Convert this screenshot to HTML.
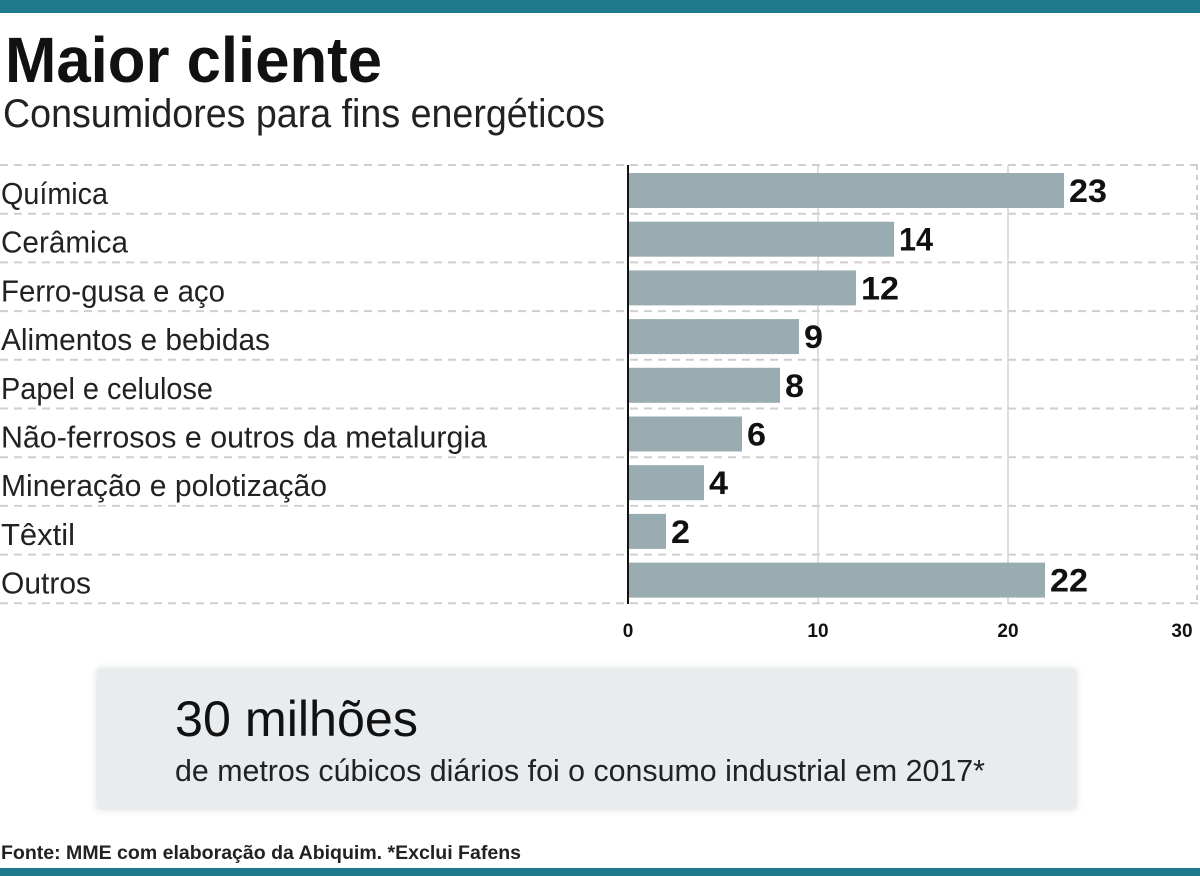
<!DOCTYPE html>
<html><head><meta charset="utf-8"><style>
html,body{margin:0;padding:0;background:#fff;}
svg{display:block;font-family:"Liberation Sans",sans-serif;}
</style></head><body>
<svg width="1200" height="876" viewBox="0 0 1200 876" xmlns="http://www.w3.org/2000/svg">
<defs><filter id="sh" x="-5%" y="-10%" width="110%" height="120%"><feGaussianBlur stdDeviation="4"/></filter></defs>
<rect x="0" y="0" width="1200" height="13" fill="#1e7a8c"/>
<text x="5" y="82" font-size="64" font-weight="bold" textLength="377" lengthAdjust="spacingAndGlyphs" fill="#111">Maior cliente</text>
<text x="3" y="127" font-size="40" textLength="602" lengthAdjust="spacingAndGlyphs" fill="#222">Consumidores para fins energéticos</text>
<g stroke="#cfcfcf" stroke-width="2" stroke-dasharray="8,6">
<line x1="0" y1="165" x2="1200" y2="165"/><line x1="0" y1="213.7" x2="1200" y2="213.7"/>
<line x1="0" y1="262.4" x2="1200" y2="262.4"/><line x1="0" y1="311.1" x2="1200" y2="311.1"/>
<line x1="0" y1="359.8" x2="1200" y2="359.8"/><line x1="0" y1="408.5" x2="1200" y2="408.5"/>
<line x1="0" y1="457.2" x2="1200" y2="457.2"/><line x1="0" y1="505.9" x2="1200" y2="505.9"/>
<line x1="0" y1="554.6" x2="1200" y2="554.6"/><line x1="0" y1="603.3" x2="1200" y2="603.3"/>
<line x1="1197" y1="165" x2="1197" y2="604" stroke-dasharray="5,5"/>
</g>
<line x1="818" y1="165" x2="818" y2="604" stroke="#d4d4d4" stroke-width="1.5"/>
<line x1="1008" y1="165" x2="1008" y2="604" stroke="#d4d4d4" stroke-width="1.5"/>
<g fill="#98acb1">
<rect x="628" y="173" width="436" height="35"/>
<rect x="628" y="221.7" width="266" height="35"/>
<rect x="628" y="270.4" width="228" height="35"/>
<rect x="628" y="319.1" width="171" height="35"/>
<rect x="628" y="367.8" width="152" height="35"/>
<rect x="628" y="416.5" width="114" height="35"/>
<rect x="628" y="465.2" width="76" height="35"/>
<rect x="628" y="513.9" width="38" height="35"/>
<rect x="628" y="562.6" width="417" height="35"/>
</g>
<line x1="628" y1="165" x2="628" y2="604" stroke="#111" stroke-width="2"/>
<g font-size="31" fill="#222">
<text x="1" y="204" textLength="107" lengthAdjust="spacingAndGlyphs">Química</text>
<text x="1" y="252.7" textLength="127" lengthAdjust="spacingAndGlyphs">Cerâmica</text>
<text x="1" y="301.4" textLength="224" lengthAdjust="spacingAndGlyphs">Ferro-gusa e aço</text>
<text x="1" y="350.1" textLength="269" lengthAdjust="spacingAndGlyphs">Alimentos e bebidas</text>
<text x="1" y="398.8" textLength="212" lengthAdjust="spacingAndGlyphs">Papel e celulose</text>
<text x="1" y="447.5" textLength="486" lengthAdjust="spacingAndGlyphs">Não-ferrosos e outros da metalurgia</text>
<text x="1" y="496.2" textLength="326" lengthAdjust="spacingAndGlyphs">Mineração e polotização</text>
<text x="1" y="544.9" textLength="74" lengthAdjust="spacingAndGlyphs">Têxtil</text>
<text x="1" y="593.6" textLength="90" lengthAdjust="spacingAndGlyphs">Outros</text>
</g>
<g font-size="32" font-weight="bold" fill="#111">
<text x="1069" y="202" textLength="38" lengthAdjust="spacingAndGlyphs">23</text>
<text x="899" y="250.7" textLength="34" lengthAdjust="spacingAndGlyphs">14</text>
<text x="861" y="299.4" textLength="38" lengthAdjust="spacingAndGlyphs">12</text>
<text x="804" y="348.1" textLength="19" lengthAdjust="spacingAndGlyphs">9</text>
<text x="785" y="396.8" textLength="19" lengthAdjust="spacingAndGlyphs">8</text>
<text x="747" y="445.5" textLength="19" lengthAdjust="spacingAndGlyphs">6</text>
<text x="709" y="494.2" textLength="19" lengthAdjust="spacingAndGlyphs">4</text>
<text x="671" y="542.9" textLength="19" lengthAdjust="spacingAndGlyphs">2</text>
<text x="1050" y="591.6" textLength="38" lengthAdjust="spacingAndGlyphs">22</text>
</g>
<g font-size="19" font-weight="bold" fill="#111" text-anchor="middle">
<text x="628" y="637">0</text><text x="818" y="637">10</text><text x="1008" y="637">20</text><text x="1182" y="637">30</text>
</g>
<rect x="97" y="669" width="979" height="140" fill="#d8dadc" filter="url(#sh)"/>
<rect x="97" y="669" width="979" height="140" fill="#e9ecee"/>
<text x="175" y="736" font-size="50" textLength="243" lengthAdjust="spacingAndGlyphs" fill="#111">30 milhões</text>
<text x="175" y="781" font-size="31" textLength="810" lengthAdjust="spacingAndGlyphs" fill="#222">de metros cúbicos diários foi o consumo industrial em 2017*</text>
<text x="1" y="859" font-size="19" font-weight="bold" textLength="520" lengthAdjust="spacingAndGlyphs" fill="#222">Fonte: MME com elaboração da Abiquim. *Exclui Fafens</text>
<rect x="0" y="868" width="1200" height="8" fill="#1e7a8c"/>
</svg>
</body></html>
